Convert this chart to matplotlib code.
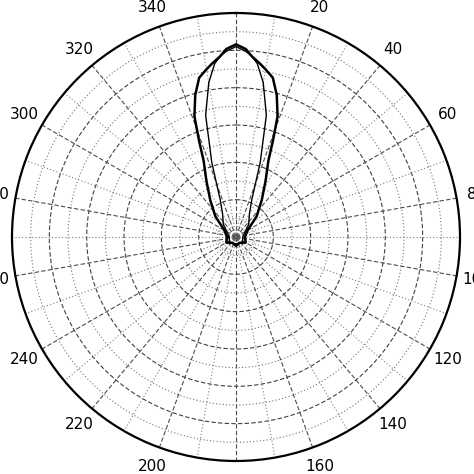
import numpy as np
import matplotlib
matplotlib.use("Agg")
import matplotlib.pyplot as plt

# outer (thick) lobe: angle deg, normalized radius
outer_deg = [-90, -60, -45, -35, -28, -23, -21, -19, -16, -13, -10, -8, -5, -3, 0,
             3, 5, 8, 10, 13, 16, 19, 21, 23, 28, 35, 45, 60, 90, 120, 150, 180, 210, 240, 270]
outer_r   = [0.04, 0.06, 0.13, 0.20, 0.28, 0.37, 0.46, 0.57, 0.66, 0.73, 0.76, 0.78, 0.81, 0.84, 0.86,
             0.84, 0.81, 0.78, 0.76, 0.73, 0.66, 0.57, 0.46, 0.37, 0.28, 0.20, 0.13, 0.06, 0.04, 0.05, 0.03, 0.04, 0.03, 0.05, 0.04]
# inner (thin) lobe
inner_deg = [-90, -45, -30, -23, -18, -14, -10, -7, -5, -3, 0, 3, 5, 7, 10, 14, 18, 23, 30, 45, 90, 135, 180, 225, 270]
inner_r   = [0.03, 0.08, 0.12, 0.18, 0.35, 0.56, 0.70, 0.78, 0.81, 0.83, 0.85, 0.83, 0.81, 0.78, 0.70, 0.56, 0.35, 0.18, 0.12, 0.08, 0.03, 0.04, 0.03, 0.04, 0.03]

theta_labels = [20, 40, 60, 80, 100, 120, 140, 160, 200, 220, 240, 260, 280, 300, 320, 340]
r_rings = np.arange(1, 12) / 12

fig = plt.figure(figsize=(4.74, 4.74), dpi=100)
cx, cy, R = 236/474, 1-237/474, 224/474
ax = fig.add_axes([cx-R, cy-R, 2*R, 2*R], projection='polar')
ax.set_theta_zero_location('N')
ax.set_theta_direction(-1)
ax.set_ylim(0, 1)
ax.grid(False)
ax.set_yticks([])
ax.set_xticks(np.deg2rad(theta_labels))
ax.set_xticklabels([str(t) for t in theta_labels], fontsize=11)
ax.tick_params(axis='x', pad=4)
ax.spines['polar'].set_linewidth(1.6)

t = np.linspace(0, 2*np.pi, 400)
for i, rr in enumerate(r_rings):
    ax.plot(t, np.full_like(t, rr), color='0.25' if i % 2 else '0.45',
            lw=0.8, ls=(0, (4, 2)) if i % 2 else (0, (1, 2)))
for a in range(0, 360, 10):
    ax.plot([np.deg2rad(a)]*2, [0, 1], color='0.3' if a % 20 == 0 else '0.5',
            lw=0.8, ls=(0, (4, 2)) if a % 20 == 0 else (0, (1, 2)))

ax.plot(np.deg2rad(outer_deg), outer_r, color='black', lw=1.8)
ax.plot(np.deg2rad(inner_deg), inner_r, color='black', lw=1.0)

fig.savefig('out.png', dpi=100)
